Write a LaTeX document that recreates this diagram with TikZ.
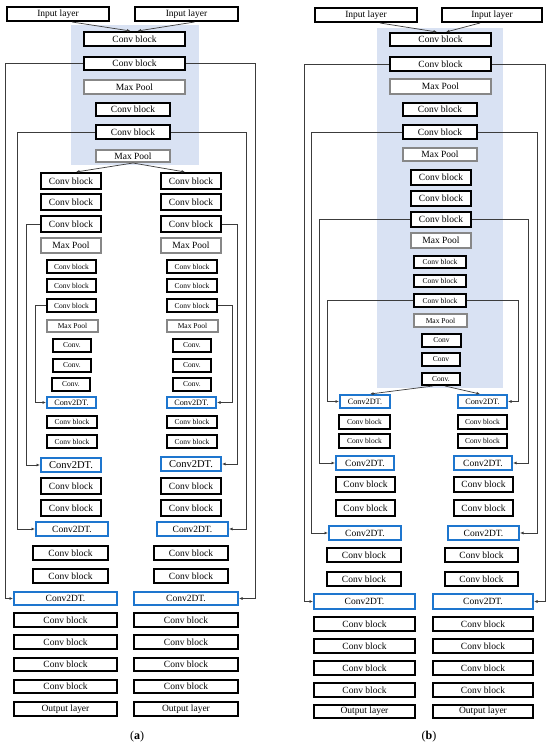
\documentclass[tikz,border=0pt]{standalone}
\usepackage{fontspec}
\setmainfont{Liberation Serif}
\usetikzlibrary{calc,arrows.meta}
\definecolor{shadeblue}{RGB}{217,226,243}
\definecolor{bblue}{RGB}{30,118,206}
\definecolor{bgray}{RGB}{135,135,135}
\definecolor{lnk}{RGB}{60,60,60}
\newcommand\bx[7]{\node[#6,minimum width={#4pt-#2pt-1.8pt},minimum height={#5pt-#3pt-1.8pt}] (#1) at ({(#2+#4)/2},{(#3+#5)/2}) {#7};}
\tikzset{
  box/.style={draw,line width=1.8pt,fill=white,inner sep=0pt,align=center},
  blk/.style={box,draw=black},
  gry/.style={box,draw=bgray},
  blu/.style={box,draw=bblue},
  fa/.style={font=\fontsize{9.5}{10}\selectfont},
  fb/.style={font=\fontsize{7.5}{8}\selectfont},
  fc/.style={font=\fontsize{10.5}{11}\selectfont},
  fd/.style={font=\fontsize{8.2}{9}\selectfont},
  link/.style={draw=lnk,line width=0.7pt},
  arr/.style={link,-{Latex[length=3.5pt,width=3pt]}},
  lab/.style={font=\fontsize{12}{13}\selectfont}
}
\begin{document}
\begin{tikzpicture}[x=1pt,y=-1pt]
\useasboundingbox[fill=white] (0,0) rectangle (550,748);
% ---------------- (a) ----------------
\fill[shadeblue] (71,25) rectangle (199,165);
\bx{Ain1}{6}{6}{110}{22}{blk,fa}{Input layer}
\bx{Ain2}{134}{6}{239}{22}{blk,fa}{Input layer}
\bx{Ac1}{83}{31}{186}{47}{blk,fa}{Conv block}
\bx{Ac2}{83}{56}{186}{71}{blk,fa}{Conv block}
\bx{Amp1}{83}{79}{186}{95}{gry,fa}{Max Pool}
\bx{Ac3}{95}{102}{171}{117}{blk,fa}{Conv block}
\bx{Ac4}{95}{124}{171}{140}{blk,fa}{Conv block}
\bx{Amp2}{95}{149}{171}{163}{gry,fa}{Max Pool}
% left column
\bx{AL1}{40}{172}{102}{190}{blk,fa}{Conv block}
\bx{AL2}{40}{193}{102}{211}{blk,fa}{Conv block}
\bx{AL3}{40}{215}{102}{233}{blk,fa}{Conv block}
\bx{AL4}{40}{237}{102}{254}{gry,fa}{Max Pool}
\bx{AL5}{46}{259}{97}{274}{blk,fb}{Conv block}
\bx{AL6}{46}{278}{97}{293}{blk,fb}{Conv block}
\bx{AL7}{46}{298}{97}{313}{blk,fb}{Conv block}
\bx{AL8}{46}{319}{99}{333}{gry,fb}{Max Pool}
\bx{AL9}{52}{338}{92}{353}{blk,fb}{Conv.}
\bx{AL10}{52}{358}{92}{373}{blk,fb}{Conv.}
\bx{AL11}{51}{377}{91}{392}{blk,fb}{Conv.}
\bx{AL12}{46}{396}{97}{409}{blu,fd}{Conv2DT.}
\bx{AL13}{46}{415}{98}{429}{blk,fb}{Conv block}
\bx{AL14}{46}{434}{98}{449}{blk,fb}{Conv block}
\bx{AL15}{40}{457}{102}{473}{blu,fc}{Conv2DT.}
\bx{AL16}{40}{477}{102}{495}{blk,fa}{Conv block}
\bx{AL17}{40}{499}{102}{517}{blk,fa}{Conv block}
\bx{AL18}{35}{521}{109}{537}{blu,fa}{Conv2DT.}
\bx{AL19}{32}{545}{109}{561}{blk,fa}{Conv block}
\bx{AL20}{32}{568}{109}{584}{blk,fa}{Conv block}
\bx{AL21}{13}{591}{118}{606}{blu,fa}{Conv2DT.}
\bx{AL22}{13}{612}{118}{628}{blk,fa}{Conv block}
\bx{AL23}{13}{634}{118}{650}{blk,fa}{Conv block}
\bx{AL24}{13}{657}{118}{672}{blk,fa}{Conv block}
\bx{AL25}{13}{679}{118}{694}{blk,fa}{Conv block}
\bx{AL26}{13}{701}{118}{717}{blk,fa}{Output layer}
% right column
\bx{AR1}{160}{172}{222}{190}{blk,fa}{Conv block}
\bx{AR2}{160}{193}{222}{211}{blk,fa}{Conv block}
\bx{AR3}{160}{215}{222}{233}{blk,fa}{Conv block}
\bx{AR4}{160}{237}{222}{254}{gry,fa}{Max Pool}
\bx{AR5}{166}{259}{218}{274}{blk,fb}{Conv block}
\bx{AR6}{166}{278}{218}{293}{blk,fb}{Conv block}
\bx{AR7}{166}{298}{218}{313}{blk,fb}{Conv block}
\bx{AR8}{166}{319}{219}{333}{gry,fb}{Max Pool}
\bx{AR9}{172}{338}{212}{353}{blk,fb}{Conv.}
\bx{AR10}{172}{358}{212}{373}{blk,fb}{Conv.}
\bx{AR11}{172}{377}{212}{392}{blk,fb}{Conv.}
\bx{AR12}{166}{396}{217}{409}{blu,fd}{Conv2DT.}
\bx{AR13}{166}{415}{218}{429}{blk,fb}{Conv block}
\bx{AR14}{166}{434}{218}{449}{blk,fb}{Conv block}
\bx{AR15}{160}{456}{222}{472}{blu,fc}{Conv2DT.}
\bx{AR16}{160}{477}{222}{495}{blk,fa}{Conv block}
\bx{AR17}{160}{499}{222}{517}{blk,fa}{Conv block}
\bx{AR18}{156}{521}{229}{537}{blu,fa}{Conv2DT.}
\bx{AR19}{153}{545}{229}{561}{blk,fa}{Conv block}
\bx{AR20}{153}{568}{229}{584}{blk,fa}{Conv block}
\bx{AR21}{133}{591}{239}{606}{blu,fa}{Conv2DT.}
\bx{AR22}{133}{612}{239}{628}{blk,fa}{Conv block}
\bx{AR23}{133}{634}{239}{650}{blk,fa}{Conv block}
\bx{AR24}{133}{657}{239}{672}{blk,fa}{Conv block}
\bx{AR25}{133}{679}{239}{694}{blk,fa}{Conv block}
\bx{AR26}{133}{701}{239}{717}{blk,fa}{Output layer}
% connectors (a)
\draw[arr] ($(Ain1.south)+(14,0)$) -- ($(Ac1.north)+(-4,0)$);
\draw[arr] ($(Ain2.south)+(8,0)$) -- ($(Ac1.north)+(3,0)$);
\draw[arr] (Amp2.south) -- ($(AL1.north)+(5,0)$);
\draw[arr] (Amp2.south) -- ($(AR1.north)+(-6,0)$);
\draw[arr] (Ac2.west) -- (Ac2.west -| 5,0) |- (AL21.west);
\draw[arr] (Ac2.east) -- (Ac2.east -| 255,0) |- (AR21.east);
\draw[arr] (Ac4.west) -- (Ac4.west -| 17,0) |- (AL18.west);
\draw[arr] (Ac4.east) -- (Ac4.east -| 246,0) |- (AR18.east);
\draw[arr] (AL3.west) -- (AL3.west -| 26,0) |- (AL15.west);
\draw[arr] (AR3.east) -- (AR3.east -| 237,0) |- (AR15.east);
\draw[arr] (AL7.west) -- (AL7.west -| 35,0) |- (AL12.west);
\draw[arr] (AR7.east) -- (AR7.east -| 232,0) |- (AR12.east);
\node[lab] (la) at (137,737) {(\textbf{a})};
% ---------------- (b) ----------------
\fill[shadeblue] (377,28) rectangle (503,388);
\bx{Bin1}{314}{7}{418}{23}{blk,fa}{Input layer}
\bx{Bin2}{441}{7}{543}{23}{blk,fa}{Input layer}
\bx{Bc1}{389}{32}{492}{47}{blk,fa}{Conv block}
\bx{Bc2}{389}{56}{492}{72}{blk,fa}{Conv block}
\bx{Bmp1}{389}{78}{492}{95}{gry,fa}{Max Pool}
\bx{Bc3}{402}{102}{478}{117}{blk,fa}{Conv block}
\bx{Bc4}{402}{124}{478}{140}{blk,fa}{Conv block}
\bx{Bmp2}{402}{147}{478}{162}{gry,fa}{Max Pool}
\bx{Bc5}{410}{169}{472}{186}{blk,fa}{Conv block}
\bx{Bc6}{410}{190}{472}{207}{blk,fa}{Conv block}
\bx{Bc7}{410}{211}{472}{228}{blk,fa}{Conv block}
\bx{Bmp3}{410}{232}{472}{249}{gry,fa}{Max Pool}
\bx{Bc8}{413}{255}{467}{269}{blk,fb}{Conv block}
\bx{Bc9}{413}{274}{467}{288}{blk,fb}{Conv block}
\bx{Bc10}{413}{293}{467}{308}{blk,fb}{Conv block}
\bx{Bmp4}{413}{313}{468}{328}{gry,fb}{Max Pool}
\bx{Bc11}{421}{333}{462}{348}{blk,fb}{Conv}
\bx{Bc12}{421}{352}{461}{367}{blk,fb}{Conv}
\bx{Bc13}{421}{372}{461}{386}{blk,fb}{Conv.}
% left column
\bx{BL1}{339}{394}{391}{409}{blu,fd}{Conv2DT.}
\bx{BL2}{338}{414}{391}{430}{blk,fb}{Conv block}
\bx{BL3}{338}{433}{391}{449}{blk,fb}{Conv block}
\bx{BL4}{335}{455}{395}{471}{blu,fa}{Conv2DT.}
\bx{BL5}{335}{476}{396}{493}{blk,fa}{Conv block}
\bx{BL6}{335}{499}{396}{517}{blk,fa}{Conv block}
\bx{BL7}{328}{525}{402}{541}{blu,fa}{Conv2DT.}
\bx{BL8}{326}{547}{402}{563}{blk,fa}{Conv block}
\bx{BL9}{326}{571}{402}{587}{blk,fa}{Conv block}
\bx{BL10}{313}{593}{416}{610}{blu,fa}{Conv2DT.}
\bx{BL11}{313}{616}{416}{632}{blk,fa}{Conv block}
\bx{BL12}{313}{638}{416}{654}{blk,fa}{Conv block}
\bx{BL13}{313}{660}{416}{676}{blk,fa}{Conv block}
\bx{BL14}{313}{682}{416}{698}{blk,fa}{Conv block}
\bx{BL15}{313}{704}{416}{719}{blk,fa}{Output layer}
% right column
\bx{BR1}{457}{394}{508}{409}{blu,fd}{Conv2DT.}
\bx{BR2}{457}{414}{508}{430}{blk,fb}{Conv block}
\bx{BR3}{457}{433}{508}{449}{blk,fb}{Conv block}
\bx{BR4}{453}{455}{513}{471}{blu,fa}{Conv2DT.}
\bx{BR5}{453}{476}{514}{493}{blk,fa}{Conv block}
\bx{BR6}{453}{499}{514}{517}{blk,fa}{Conv block}
\bx{BR7}{447}{525}{520}{541}{blu,fa}{Conv2DT.}
\bx{BR8}{444}{547}{519}{563}{blk,fa}{Conv block}
\bx{BR9}{444}{571}{519}{587}{blk,fa}{Conv block}
\bx{BR10}{432}{593}{534}{610}{blu,fa}{Conv2DT.}
\bx{BR11}{432}{616}{534}{632}{blk,fa}{Conv block}
\bx{BR12}{432}{638}{534}{654}{blk,fa}{Conv block}
\bx{BR13}{432}{660}{534}{676}{blk,fa}{Conv block}
\bx{BR14}{432}{682}{534}{698}{blk,fa}{Conv block}
\bx{BR15}{432}{704}{534}{719}{blk,fa}{Output layer}
% connectors (b)
\draw[arr] ($(Bin1.south)+(14,0)$) -- ($(Bc1.north)+(-3.5,0)$);
\draw[arr] ($(Bin2.south)+(-12,0)$) -- ($(Bc1.north)+(5.5,0)$);
\draw[arr] ($(Bc13.south)+(-8,0)$) -- ($(BL1.north)+(5,0)$);
\draw[arr] ($(Bc13.south)+(4,0)$) -- ($(BR1.north)+(-2.5,0)$);
\draw[arr] (Bc2.west) -- (Bc2.west -| 304,0) |- (BL10.west);
\draw[arr] (Bc2.east) -- (Bc2.east -| 545,0) |- (BR10.east);
\draw[arr] (Bc4.west) -- (Bc4.west -| 311,0) |- (BL7.west);
\draw[arr] (Bc4.east) -- (Bc4.east -| 537,0) |- (BR7.east);
\draw[arr] (Bc7.west) -- (Bc7.west -| 319,0) |- (BL4.west);
\draw[arr] (Bc7.east) -- (Bc7.east -| 528,0) |- (BR4.east);
\draw[arr] (Bc10.west) -- (Bc10.west -| 327,0) |- (BL1.west);
\draw[arr] (Bc10.east) -- (Bc10.east -| 518,0) |- (BR1.east);
\node[lab] (lb) at (429,737) {(\textbf{b})};
\end{tikzpicture}
\end{document}
